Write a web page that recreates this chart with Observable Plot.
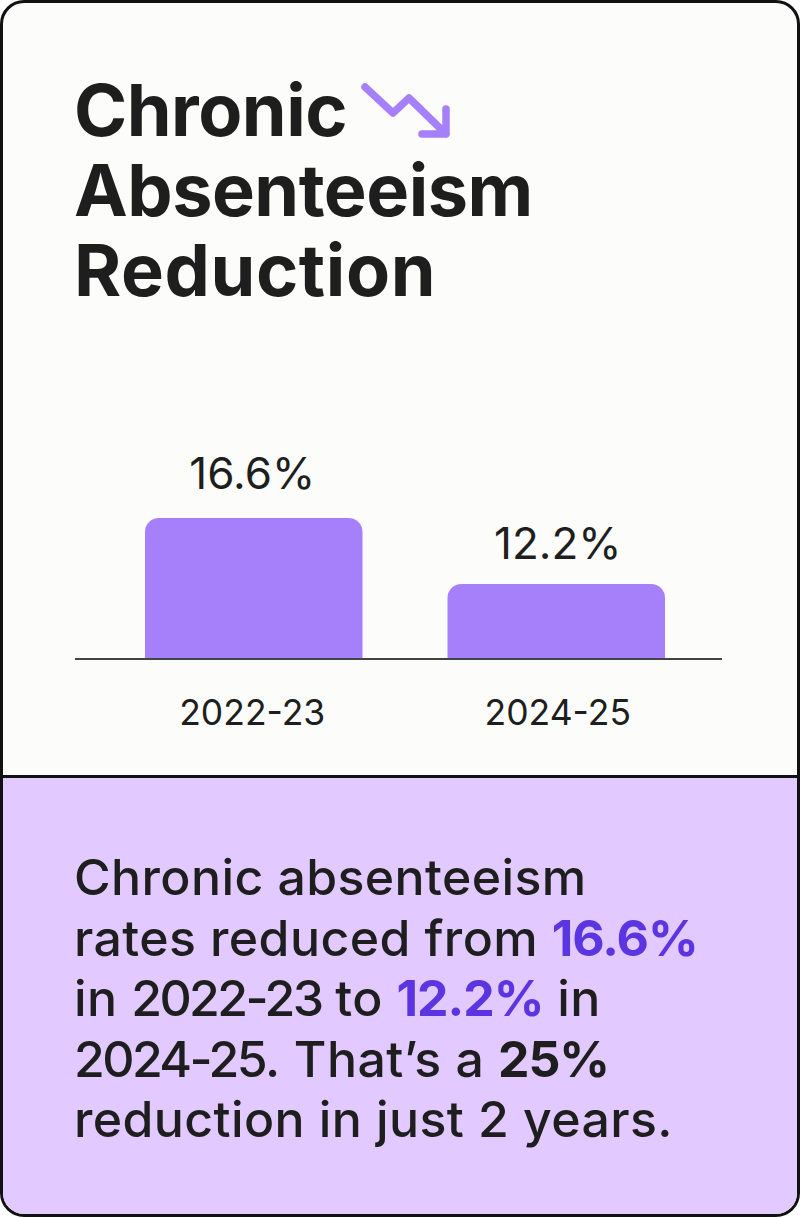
<!DOCTYPE html>
<html><head><meta charset="utf-8">
<script src="https://cdn.jsdelivr.net/npm/d3@7"></script>
<script src="https://cdn.jsdelivr.net/npm/@observablehq/plot@0.6"></script>
<style>
html,body{margin:0;padding:0;background:#fff;}
#card{position:relative;width:800px;height:1217px;box-sizing:border-box;border:3px solid #111;border-radius:24px;background:#fcfcfa;overflow:hidden;font-family:Inter,sans-serif;color:#1e1e1e;}
#title{position:absolute;left:71px;top:67px;margin:0;font-size:72px;line-height:80px;font-weight:700;letter-spacing:-0.5px;}
#title .r{letter-spacing:0.6px;}
#icon{position:absolute;left:355px;top:78px;}
#chart{position:absolute;left:-3px;top:415px;width:800px;}
#panel{position:absolute;left:0;right:0;top:772px;bottom:0;background:#e2c9ff;border-top:3px solid #111;}
#panel p{position:absolute;left:71px;top:69px;margin:0;font-size:50px;font-weight:500;line-height:60.5px;white-space:nowrap;letter-spacing:0.4px;}
#panel b{font-weight:700;letter-spacing:-1px;}
#panel b.h{color:#5a35e0;}
#panel .n{letter-spacing:-2.6px;}
</style></head>
<body>
<div id="card">
<h1 id="title">Chronic<br>Absenteeism<br><span class="r">Reduction</span></h1>
<svg id="icon" width="100" height="64" viewBox="0 0 100 64" fill="none" stroke="#a67ffb" stroke-width="7.5" stroke-linecap="round" stroke-linejoin="round"><path d="M7 6 L35 32 L51 17 L88 53 M88 28 L88 53 L64 53"/></svg>
<div id="chart"></div>
<div id="panel"><p>Chronic absenteeism<br>rates reduced from <b class="h">16.6%</b><br>in <span class="n">2022-23</span> to <b class="h">12.2%</b> in<br><span class="n">2024-25</span>. That’s a <b>25%</b><br>reduction in just 2 years.</p></div>
</div>
<script>
const years = ["2022-23", "2024-25"];
const rates = [16.6, 12.2];
const labels = ["16.6%", "12.2%"];
const axisFloor = 7.2; // the reference's bars are not drawn from zero
const data = years.map((year, i) => ({year, rate: rates[i], label: labels[i]}));
const H = 340, base = 241, top0 = 100;
const chart = Plot.plot({
  width: 800, height: H,
  marginLeft: 75, marginRight: 78, marginTop: 0, marginBottom: 0,
  style: {background: "transparent", fontFamily: "Inter, sans-serif", overflow: "visible"},
  x: {domain: years, range: [145, 665], padding: 0.281, paddingOuter: 0, round: false, axis: null},
  y: {domain: [axisFloor, 16.6], range: [base, top0], axis: null},
  marks: [
    Plot.barY(data, {x: "year", y1: axisFloor, y2: "rate", fill: "#a67ffb", rx1y1: 14, rx2y1: 14}),
    Plot.ruleY([axisFloor], {stroke: "#444", strokeWidth: 2, dy: -0.5}),
    Plot.text(data.slice(0, 1), {x: "year", y: "rate", text: "label", dy: -44, dx: -2, fontSize: 44, fill: "#1e1e1e", lineAnchor: "middle"}),
    Plot.text(data.slice(1), {x: "year", y: "rate", text: "label", dy: -40, dx: 1, fontSize: 44, fill: "#1e1e1e", lineAnchor: "middle"}),
    Plot.text(data.slice(0, 1), {x: "year", y: axisFloor, text: "year", dy: 54, dx: -2, fontSize: 35.5, fill: "#1e1e1e", lineAnchor: "middle"}),
    Plot.text(data.slice(1), {x: "year", y: axisFloor, text: "year", dy: 54, dx: 1, fontSize: 35.5, fill: "#1e1e1e", lineAnchor: "middle"})
  ]
});
document.getElementById("chart").append(chart);
</script>
</body></html>
